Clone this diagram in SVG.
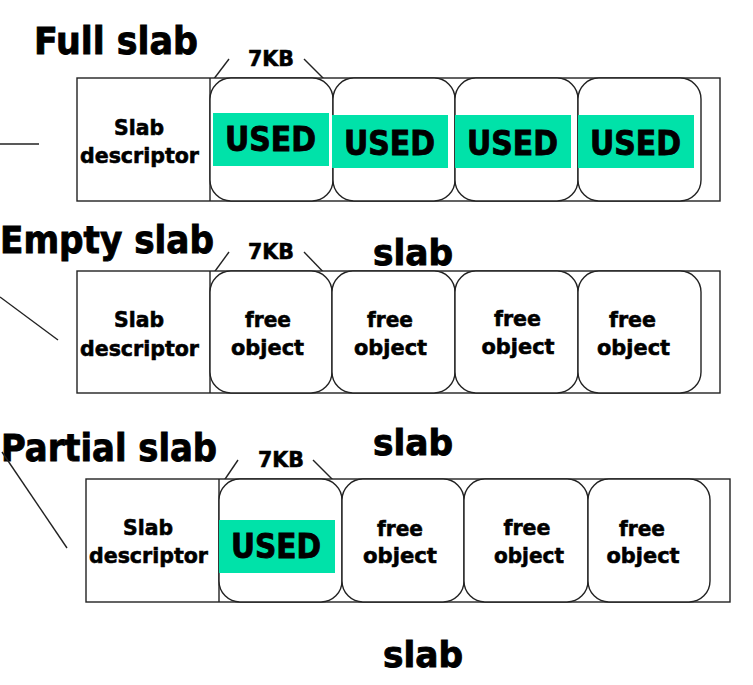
<svg xmlns="http://www.w3.org/2000/svg" width="753" height="685" viewBox="0 0 753 685">
<style>
.box{fill:#fff;stroke:#222;stroke-width:1.4}
.obj{fill:#fff;stroke:#222;stroke-width:1.4}
.div{stroke:#222;stroke-width:1.4}
.used{fill:#00E2A9}
.con{stroke:#222;stroke-width:1.4;fill:none}
text{font-family:"DejaVu Sans","Liberation Sans",sans-serif;font-weight:bold;fill:#000;stroke:#000;stroke-width:0.6;text-anchor:middle}
.t{font-size:37px;text-anchor:start;stroke-width:0.9}
.s{font-size:35px;text-anchor:start;stroke-width:0.9}
.l{font-size:22px}
.k{font-size:22px;text-anchor:start}
.u{font-size:33px;stroke-width:0.9}
</style>
<rect width="753" height="685" fill="#fff" stroke="none"/>

<g id="titles">
<text class="t" x="34" y="54" textLength="164" lengthAdjust="spacingAndGlyphs">Full slab</text>
<text class="t" x="0" y="253" textLength="214" lengthAdjust="spacingAndGlyphs">Empty slab</text>
<text class="t" x="1" y="461" textLength="216" lengthAdjust="spacingAndGlyphs">Partial slab</text>
<text class="s" x="373" y="265" textLength="80" lengthAdjust="spacingAndGlyphs">slab</text>
<text class="s" x="373" y="455" textLength="80" lengthAdjust="spacingAndGlyphs">slab</text>
<text class="s" x="383" y="667" textLength="80" lengthAdjust="spacingAndGlyphs">slab</text>
<text class="k" x="248" y="66" textLength="46" lengthAdjust="spacingAndGlyphs">7KB</text>
<text class="k" x="248" y="259" textLength="46" lengthAdjust="spacingAndGlyphs">7KB</text>
<text class="k" x="258" y="467" textLength="46" lengthAdjust="spacingAndGlyphs">7KB</text>
</g>

<g id="connectors">
<line class="con" x1="229" y1="59" x2="210" y2="84"/>
<line class="con" x1="304" y1="59" x2="330" y2="85"/>
<line class="con" x1="0" y1="144" x2="39" y2="144"/>
<line class="con" x1="229" y1="252" x2="210" y2="278"/>
<line class="con" x1="304" y1="252" x2="331" y2="280"/>
<line class="con" x1="0" y1="297" x2="58" y2="340"/>
<line class="con" x1="238" y1="460" x2="219" y2="488"/>
<line class="con" x1="313" y1="460" x2="342" y2="489"/>
<line class="con" x1="2" y1="452" x2="67" y2="548"/>
</g>

<g id="full-slab">
<rect class="box" x="77" y="78" width="643" height="123"/>
<g id="full-desc">
<line class="div" x1="210" y1="78" x2="210" y2="201"/>
<text class="l" x="139" y="135" textLength="50" lengthAdjust="spacingAndGlyphs">Slab</text>
<text class="l" x="139.5" y="163" textLength="119" lengthAdjust="spacingAndGlyphs">descriptor</text>
</g>
<g id="full-obj1"><rect class="obj" x="210" y="78" width="123" height="123" rx="21"/><rect class="used" x="213" y="113" width="116" height="53"/><text class="u" x="270.5" y="151" textLength="91" lengthAdjust="spacingAndGlyphs">USED</text></g>
<g id="full-obj2"><rect class="obj" x="333" y="78" width="122" height="123" rx="21"/><rect class="used" x="332" y="115" width="116" height="53"/><text class="u" x="389.5" y="155" textLength="91" lengthAdjust="spacingAndGlyphs">USED</text></g>
<g id="full-obj3"><rect class="obj" x="455" y="78" width="123" height="123" rx="21"/><rect class="used" x="455" y="115" width="116" height="53"/><text class="u" x="512.5" y="155" textLength="91" lengthAdjust="spacingAndGlyphs">USED</text></g>
<g id="full-obj4"><rect class="obj" x="578" y="78" width="123" height="123" rx="21"/><rect class="used" x="578" y="115" width="116" height="53"/><text class="u" x="635.5" y="155" textLength="91" lengthAdjust="spacingAndGlyphs">USED</text></g>
</g>

<g id="empty-slab">
<rect class="box" x="77" y="271" width="643" height="122"/>
<g id="empty-desc">
<line class="div" x1="210" y1="271" x2="210" y2="393"/>
<text class="l" x="139" y="327" textLength="50" lengthAdjust="spacingAndGlyphs">Slab</text>
<text class="l" x="139.5" y="355.5" textLength="119" lengthAdjust="spacingAndGlyphs">descriptor</text>
</g>
<g id="empty-obj1"><rect class="obj" x="210" y="271" width="122" height="122" rx="21"/><text class="l" x="268" y="327" textLength="46" lengthAdjust="spacingAndGlyphs">free</text><text class="l" x="267.5" y="355" textLength="73" lengthAdjust="spacingAndGlyphs">object</text></g>
<g id="empty-obj2"><rect class="obj" x="332" y="271" width="123" height="122" rx="21"/><text class="l" x="390" y="327" textLength="46" lengthAdjust="spacingAndGlyphs">free</text><text class="l" x="390.5" y="355" textLength="73" lengthAdjust="spacingAndGlyphs">object</text></g>
<g id="empty-obj3"><rect class="obj" x="455" y="271" width="123" height="122" rx="21"/><text class="l" x="517.5" y="326" textLength="47" lengthAdjust="spacingAndGlyphs">free</text><text class="l" x="518" y="354" textLength="73" lengthAdjust="spacingAndGlyphs">object</text></g>
<g id="empty-obj4"><rect class="obj" x="578" y="271" width="123" height="122" rx="21"/><text class="l" x="632.5" y="327" textLength="47" lengthAdjust="spacingAndGlyphs">free</text><text class="l" x="633.5" y="355" textLength="73" lengthAdjust="spacingAndGlyphs">object</text></g>
</g>

<g id="partial-slab">
<rect class="box" x="86" y="479" width="644" height="123"/>
<g id="partial-desc">
<line class="div" x1="219" y1="479" x2="219" y2="602"/>
<text class="l" x="148" y="535" textLength="50" lengthAdjust="spacingAndGlyphs">Slab</text>
<text class="l" x="148.5" y="563" textLength="119" lengthAdjust="spacingAndGlyphs">descriptor</text>
</g>
<g id="partial-obj1"><rect class="obj" x="219" y="479" width="123" height="123" rx="21"/><rect class="used" x="219" y="520" width="116" height="53"/><text class="u" x="276" y="558" textLength="90" lengthAdjust="spacingAndGlyphs">USED</text></g>
<g id="partial-obj2"><rect class="obj" x="342" y="479" width="122" height="123" rx="21"/><text class="l" x="400" y="536" textLength="46" lengthAdjust="spacingAndGlyphs">free</text><text class="l" x="400" y="563" textLength="74" lengthAdjust="spacingAndGlyphs">object</text></g>
<g id="partial-obj3"><rect class="obj" x="464" y="479" width="124" height="123" rx="21"/><text class="l" x="527" y="535" textLength="47" lengthAdjust="spacingAndGlyphs">free</text><text class="l" x="529" y="563" textLength="70" lengthAdjust="spacingAndGlyphs">object</text></g>
<g id="partial-obj4"><rect class="obj" x="588" y="479" width="122" height="123" rx="21"/><text class="l" x="642" y="536" textLength="46" lengthAdjust="spacingAndGlyphs">free</text><text class="l" x="643" y="563" textLength="73" lengthAdjust="spacingAndGlyphs">object</text></g>
</g>
</svg>
